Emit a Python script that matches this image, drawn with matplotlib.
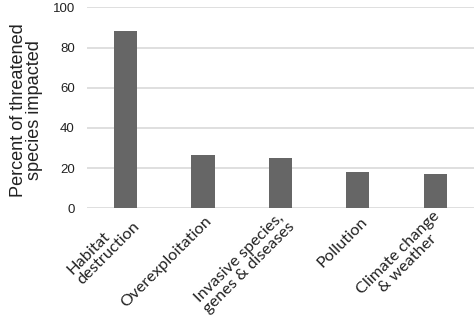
import matplotlib
matplotlib.use("Agg")
import matplotlib.pyplot as plt
from matplotlib.transforms import offset_copy
import numpy as np

categories = ["Habitat\ndestruction", "Overexploitation", "Invasive species,\ngenes & diseases",
              "Pollution", "Climate change\n& weather"]
percent_impacted = [88, 26.5, 25, 18, 17]
y_ticks = [0, 20, 40, 60, 80, 100]

fig = plt.figure(figsize=(4.74, 3.25), dpi=100)
ax = fig.add_axes([0.183, 0.359, 0.817, 0.6185])

x = np.arange(len(categories))
ax.bar(x, percent_impacted, width=0.3, color="#666666", zorder=3)

ax.set_xlim(-0.5, len(categories) - 0.5)
ax.set_ylim(0, 100)
ax.set_yticks(y_ticks)
ax.set_yticklabels([str(t) for t in y_ticks], fontfamily="Liberation Sans", fontsize=9.5, color="#222222")
ax.yaxis.grid(True, color="#d9d9d9", linewidth=1.2, zorder=0)
ax.set_axisbelow(True)
for s in ax.spines.values():
    s.set_visible(False)
ax.tick_params(axis="both", length=0)
ax.tick_params(axis="y", pad=8.5)

# category labels, slanted at 45 degrees just below the baseline
ax.set_xticks(x)
ax.tick_params(axis="x", labelbottom=False)
label_tr = offset_copy(ax.get_xaxis_transform(), fig=fig, x=7, y=-11, units="dots")
for i, name in enumerate(categories):
    ax.text(x[i], 0, name, transform=label_tr, rotation=45, rotation_mode="anchor",
            ha="right", va="center", fontfamily="Lato", fontsize=11.8, color="#222222",
            multialignment="left" if i == 0 else "center", linespacing=1.05)

ax.set_ylabel("Percent of threatened\nspecies impacted", fontfamily="Liberation Sans",
              fontsize=13.1, color="#222222", linespacing=0.95)
ax.yaxis.set_label_coords(-0.113, 0.489)

fig.savefig("out.png", dpi=100)
